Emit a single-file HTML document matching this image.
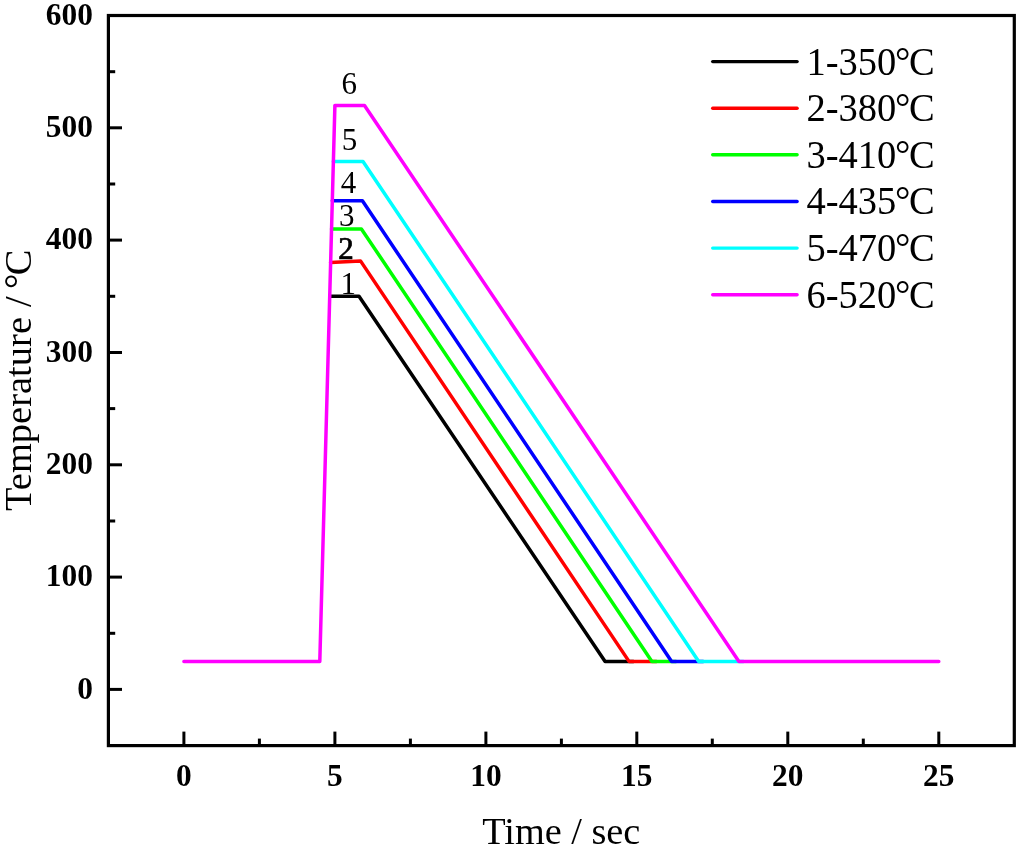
<!DOCTYPE html>
<html lang="en"><head><meta charset="utf-8"><title>Temperature vs Time</title>
<style>
html,body{margin:0;padding:0;background:#fff;}
body{width:1020px;height:848px;overflow:hidden;}
svg{display:block;}
text{font-family:"Liberation Serif","Times New Roman",Times,serif;fill:#000;}
.tick{font-weight:bold;font-size:31.4px;}
.ttl{font-size:38.3px;}
.leg{font-size:38.5px;}
.ann{font-size:31px;}
</style></head><body>
<svg width="1020" height="848" viewBox="0 0 1020 848">
<rect x="0" y="0" width="1020" height="848" fill="#ffffff"/>
<g fill="none" stroke-width="3.5" stroke-linejoin="round" stroke-linecap="round">
<polyline stroke="#000000" points="329.7,296.3 359.0,296.3 605.1,661.4 633.5,661.4"/>
<polyline stroke="#ff0000" points="330.6,262.6 360.5,260.9 629.0,661.4 656.5,661.4"/>
<polyline stroke="#00ff00" points="331.5,228.9 361.4,228.9 651.9,661.4 676.1,661.4"/>
<polyline stroke="#0000ff" points="332.3,200.8 362.4,200.8 671.6,661.4 703.3,661.4"/>
<polyline stroke="#00ffff" points="333.3,161.5 363.0,161.5 698.7,661.4 743.4,661.4"/>
<polyline stroke="#ff00ff" points="183.9,661.4 319.8,661.4 334.9,105.4 364.5,105.4 738.9,661.4 938.8,661.4"/>
</g>
<rect x="108.4" y="15.5" width="905.9" height="730.1" fill="none" stroke="#000" stroke-width="3.2"/>
<g stroke="#000" stroke-width="3">
<line x1="108.4" y1="689.4" x2="122.0" y2="689.4"/>
<line x1="108.4" y1="577.1" x2="122.0" y2="577.1"/>
<line x1="108.4" y1="464.8" x2="122.0" y2="464.8"/>
<line x1="108.4" y1="352.5" x2="122.0" y2="352.5"/>
<line x1="108.4" y1="240.1" x2="122.0" y2="240.1"/>
<line x1="108.4" y1="127.8" x2="122.0" y2="127.8"/>
<line x1="108.4" y1="15.5" x2="122.0" y2="15.5"/>
<line x1="108.4" y1="633.3" x2="115.2" y2="633.3"/>
<line x1="108.4" y1="521.0" x2="115.2" y2="521.0"/>
<line x1="108.4" y1="408.6" x2="115.2" y2="408.6"/>
<line x1="108.4" y1="296.3" x2="115.2" y2="296.3"/>
<line x1="108.4" y1="184.0" x2="115.2" y2="184.0"/>
<line x1="108.4" y1="71.7" x2="115.2" y2="71.7"/>
<line x1="183.9" y1="745.6" x2="183.9" y2="731.6"/>
<line x1="334.9" y1="745.6" x2="334.9" y2="731.6"/>
<line x1="485.9" y1="745.6" x2="485.9" y2="731.6"/>
<line x1="636.8" y1="745.6" x2="636.8" y2="731.6"/>
<line x1="787.8" y1="745.6" x2="787.8" y2="731.6"/>
<line x1="938.8" y1="745.6" x2="938.8" y2="731.6"/>
<line x1="259.4" y1="745.6" x2="259.4" y2="738.6"/>
<line x1="410.4" y1="745.6" x2="410.4" y2="738.6"/>
<line x1="561.4" y1="745.6" x2="561.4" y2="738.6"/>
<line x1="712.3" y1="745.6" x2="712.3" y2="738.6"/>
<line x1="863.3" y1="745.6" x2="863.3" y2="738.6"/>
</g>
<g class="tick" text-anchor="end">
<text transform="translate(92.9,698.5) scale(1,1.035)">0</text>
<text transform="translate(92.9,586.2) scale(1,1.035)">100</text>
<text transform="translate(92.9,473.9) scale(1,1.035)">200</text>
<text transform="translate(92.9,361.6) scale(1,1.035)">300</text>
<text transform="translate(92.9,249.2) scale(1,1.035)">400</text>
<text transform="translate(92.9,136.9) scale(1,1.035)">500</text>
<text transform="translate(92.9,24.6) scale(1,1.035)">600</text>
</g>
<g class="tick" text-anchor="middle">
<text transform="translate(183.9,785.8) scale(1,1.035)">0</text>
<text transform="translate(334.9,785.8) scale(1,1.035)">5</text>
<text transform="translate(485.9,785.8) scale(1,1.035)">10</text>
<text transform="translate(636.8,785.8) scale(1,1.035)">15</text>
<text transform="translate(787.8,785.8) scale(1,1.035)">20</text>
<text transform="translate(938.8,785.8) scale(1,1.035)">25</text>
</g>
<text class="ttl" text-anchor="middle" x="561.3" y="843.9">Time / sec</text>
<text class="ttl" style="font-size:38.5px" text-anchor="start" transform="translate(30.6,511) rotate(-90)">Temperature <tspan dx="0.5">/</tspan> <tspan dx="-2.5">°</tspan><tspan dx="-1.5">C</tspan></text>
<g fill="none" stroke-width="3.4" stroke-linecap="round">
<line stroke="#000000" x1="712.7" y1="61.6" x2="797.1" y2="61.6"/>
<line stroke="#ff0000" x1="712.7" y1="108.2" x2="797.1" y2="108.2"/>
<line stroke="#00ff00" x1="712.7" y1="154.8" x2="797.1" y2="154.8"/>
<line stroke="#0000ff" x1="712.7" y1="201.5" x2="797.1" y2="201.5"/>
<line stroke="#00ffff" x1="712.7" y1="248.1" x2="797.1" y2="248.1"/>
<line stroke="#ff00ff" x1="712.7" y1="294.7" x2="797.1" y2="294.7"/>
</g>
<g class="leg">
<text transform="translate(806.5,74.5) scale(1,1.04)">1-350<tspan dx="-1.2">°</tspan><tspan dx="-1.6">C</tspan></text>
<text transform="translate(806.5,121.1) scale(1,1.04)">2-380<tspan dx="-1.2">°</tspan><tspan dx="-1.6">C</tspan></text>
<text transform="translate(806.5,167.7) scale(1,1.04)">3-410<tspan dx="-1.2">°</tspan><tspan dx="-1.6">C</tspan></text>
<text transform="translate(806.5,214.4) scale(1,1.04)">4-435<tspan dx="-1.2">°</tspan><tspan dx="-1.6">C</tspan></text>
<text transform="translate(806.5,261.0) scale(1,1.04)">5-470<tspan dx="-1.2">°</tspan><tspan dx="-1.6">C</tspan></text>
<text transform="translate(806.5,307.6) scale(1,1.04)">6-520<tspan dx="-1.2">°</tspan><tspan dx="-1.6">C</tspan></text>
</g>
<g class="ann" text-anchor="middle">
<text transform="translate(348.2,293.8) scale(1,1.03)">1</text>
<text transform="translate(346.0,258.5) scale(1,1.03)" stroke="#000" stroke-width="0.7">2</text>
<text transform="translate(346.7,226.0) scale(1,1.03)">3</text>
<text transform="translate(348.6,193.1) scale(1,1.03)">4</text>
<text transform="translate(349.4,150.1) scale(1,1.03)">5</text>
<text transform="translate(349.3,94.3) scale(1,1.03)">6</text>
</g>
</svg></body></html>
